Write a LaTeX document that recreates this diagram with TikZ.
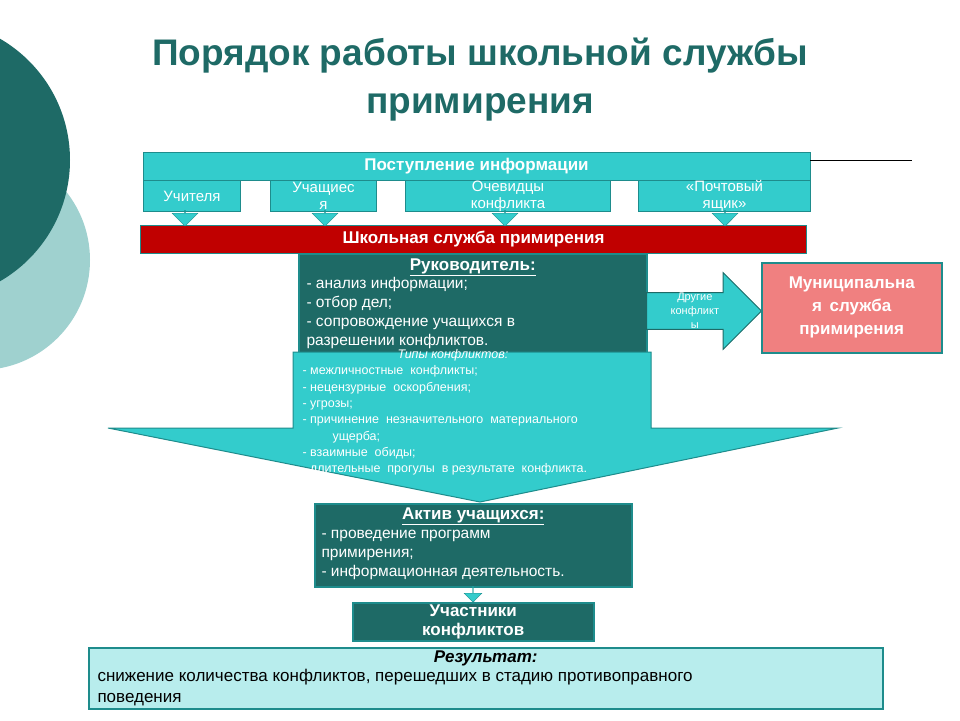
\documentclass[tikz,border=0pt]{standalone}
\usepackage{fontspec}
\setmainfont{Liberation Sans}
\usetikzlibrary{shapes.arrows,positioning}
\definecolor{turq}{HTML}{33CCCC}
\definecolor{turqline}{HTML}{1E8C8C}
\definecolor{darkteal}{HTML}{1E6A66}
\definecolor{schoolred}{HTML}{C00000}
\definecolor{salmon}{HTML}{F08080}
\definecolor{lightteal}{HTML}{9FD1CF}
\tikzstyle{infobox} = [rectangle, draw=turqline, fill=turq, line width=1pt, text=white, inner sep=0pt]
\tikzstyle{darkbox} = [rectangle, draw=turqline, fill=darkteal, line width=1.5pt, text=white, inner sep=0pt]
\tikzstyle{smallarrow} = [single arrow, draw=turqline, fill=turq, shape border rotate=270,
    minimum height=16pt, minimum width=26pt, single arrow head extend=6pt, inner sep=0pt]
\begin{document}
\begin{tikzpicture}[x=1pt, y=-1pt, font=\fontsize{15}{17}\selectfont]
    \useasboundingbox (0,0) rectangle (960,720);
    % background circles
    \fill[lightteal] (-20,260) circle (110);
    \fill[darkteal] (-70,160) circle (140);
    % title
    \node[text=darkteal, font=\fontsize{37}{48}\selectfont\bfseries, align=center] (title) at (480,80)
        {Порядок работы школьной службы\\примирения};

    % incoming information
    \node [infobox, minimum width=667pt, minimum height=28pt, font=\fontsize{17}{19}\selectfont\bfseries] (info) at (476.5,166) {Поступление информации};
    \coordinate (lineend) at (912,160);
    \draw (810,160) -- (lineend);
    \node [infobox, minimum width=97pt, minimum height=31pt, anchor=north west] (teach) at (143,180) {Учителя};
    \node [infobox, minimum width=106pt, minimum height=31pt, anchor=north west, align=center] (pupil) at (270,180) {Учащиес\\я};
    \node [infobox, minimum width=205pt, minimum height=31pt, anchor=north west, align=center] (witness) at (405,180) {Очевидцы\\конфликта};
    \node [infobox, minimum width=172pt, minimum height=31pt, anchor=north west, align=center] (mail) at (638,180) {«Почтовый\\ящик»};

    % school service
    \node [rectangle, draw=turqline, fill=schoolred, line width=1pt, text=white, minimum width=666pt, minimum height=28pt,
        anchor=north west, font=\fontsize{17}{19}\selectfont\bfseries] (school) at (140,225) {Школьная служба примирения};
    \foreach \src/\x in {teach/185, pupil/325, witness/505, mail/725}
        \node [smallarrow, anchor=north] (arr\src) at (\x,210) {};

    % leader
    \node [darkbox, minimum width=348pt, minimum height=99pt, anchor=north west] (leader) at (298,253) {};
    \node [below=2pt of leader.north, text=white, font=\fontsize{17}{19}\selectfont\bfseries] (leadtitle) {\underline{Руководитель:}};
    \node [anchor=north west, align=left, text=white, font=\fontsize{15.5}{19}\selectfont] (leadtext) at (303,274)
        {- анализ информации;\\- отбор дел;\\- сопровождение учащихся в\\разрешении конфликтов.};

    % other conflicts
    \node [single arrow, draw=darkteal, fill=turq, line width=1pt, minimum height=115pt, minimum width=48pt,
        single arrow head extend=20pt, inner sep=0pt, text width=60pt, align=center, font=\fontsize{11}{14}\selectfont,
        text=white, anchor=tail] (other) at (646,311) {Другие\\конфликт\\ы};
    \node [rectangle, draw=turqline, fill=salmon, line width=1.5pt, text=white, minimum width=180pt, minimum height=90pt,
        anchor=north west, align=center, font=\fontsize{17}{23}\selectfont\bfseries] (munic) at (761,262)
        {Муниципальна\\я\, служба\\примирения};

    % conflict types arrow
    \path [draw=turqline, fill=turq, line width=1pt] (293,352) -- (651,352) -- (651,428) -- (838,428)
        -- (480,502) -- (108,428) -- (293,428) -- cycle;
    \node [anchor=north west, text=white, align=left, font=\fontsize{12.5}{16.3}\selectfont] (types) at (299,346)
        {\hspace*{95pt}\textit{Типы конфликтов:}\\- межличностные\ \ конфликты;\\- нецензурные\ \ оскорбления;\\- угрозы;\\
         - причинение\ \ незначительного\ \ материального\\\hspace*{30pt}ущерба;\\- взаимные\ \ обиды;\\
         - длительные\ \ прогулы\ \ в\ результате\ \ конфликта.};

    % activists
    \node [darkbox, minimum width=317pt, minimum height=83pt, anchor=north west] (active) at (314,503) {};
    \node [below=1pt of active.north, text=white, font=\fontsize{17}{19}\selectfont\bfseries] (acttitle) {\underline{Актив учащихся:}};
    \node [anchor=north west, align=left, text=white, font=\fontsize{15.5}{19}\selectfont] (acttext) at (318,527)
        {- проведение программ\\примирения;\\- информационная деятельность.};

    % participants
    \node [darkbox, minimum width=241pt, minimum height=38pt, anchor=north west, align=center,
        font=\fontsize{17}{19}\selectfont\bfseries] (parts) at (352,602) {Участники\\конфликтов};
    \node [smallarrow, minimum height=16pt, minimum width=18pt, anchor=north] (arract) at (473,586) {};

    % result
    \node [rectangle, draw=turqline, fill=turq!35, line width=1.5pt, minimum width=794pt, minimum height=61pt,
        anchor=north west] (result) at (88,647) {};
    \node [below=0pt of result.north, font=\fontsize{17}{19}\selectfont\bfseries\itshape] (restitle) {Результат:};
    \node [anchor=north west, align=left, font=\fontsize{17}{21}\selectfont] (restext) at (94,666)
        {снижение количества конфликтов, перешедших в стадию противоправного\\поведения};
\end{tikzpicture}
\end{document}
